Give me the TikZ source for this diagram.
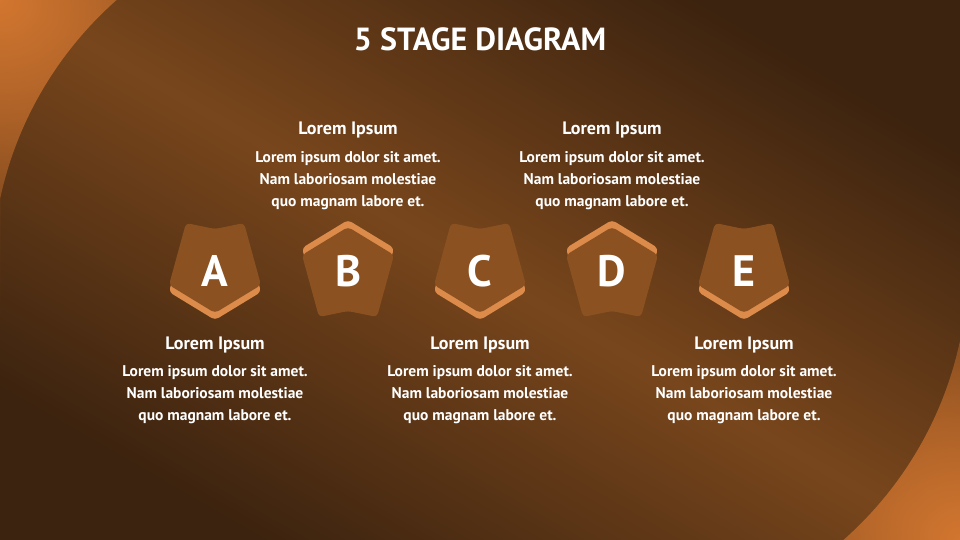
\documentclass[tikz,border=0pt]{standalone}
\usepackage{fontspec}
\setmainfont{PT Sans}
\usepackage{tikz}
\usetikzlibrary{positioning, fadings}
\definecolor{bgdark}{RGB}{60,35,15}
\definecolor{bglight}{RGB}{120,70,28}
\definecolor{glow}{RGB}{210,118,48}
\definecolor{stagebrown}{RGB}{139,81,33}
\definecolor{stageedge}{RGB}{220,139,75}
\tikzfading[name=glowfade, inner color=transparent!0, outer color=transparent!100]
\tikzset{
    stage/.pic={
        \fill[stageedge, rounded corners=4pt] (-29,-40)--(0,-34)--(29,-40)--(46,22)--(0,50)--(-46,22)--cycle;
        \fill[stagebrown, rounded corners=4pt] (-29,-47)--(0,-41)--(29,-47)--(46,15)--(0,43)--(-46,15)--cycle;
    },
    letter/.style={text=white, font=\bfseries\fontsize{44}{44}\selectfont},
    head/.style={text=white, font=\bfseries\fontsize{18}{20}\selectfont},
    body/.style={text=white, align=center, font=\bfseries\fontsize{15.5}{22}\selectfont},
}
\begin{document}
\begin{tikzpicture}[x=1pt, y=-1pt]
    \useasboundingbox (0,0) rectangle (960,540);
    \shade[top color=bgdark, bottom color=bgdark, middle color=bglight, shading angle=-30] (0,0) rectangle (960,540);
    \begin{scope}[even odd rule]
        \clip (0,0) rectangle (960,540) (360,276) circle (368);
        \fill[glow, path fading=glowfade] (-330,-330) rectangle (330,330);
    \end{scope}
    \begin{scope}[even odd rule]
        \clip (0,0) rectangle (960,540) (600,264) circle (368);
        \fill[glow, path fading=glowfade] (630,210) rectangle (1290,870);
    \end{scope}
    \node[text=white, font=\bfseries\fontsize{32}{32}\selectfont] (title) at (480,39) {5 STAGE DIAGRAM};
    \pic at (215,270) {stage};
    \pic[yscale=-1] at (348,270) {stage};
    \pic at (480,270) {stage};
    \pic[yscale=-1] at (612,270) {stage};
    \pic at (744,270) {stage};
    \node[letter] (A) at (215,271) {A};
    \node[letter] (B) at (348,271) {B};
    \node[letter] (C) at (480,271) {C};
    \node[letter] (D) at (612,271) {D};
    \node[letter] (E) at (744,271) {E};
    \node[head] (headB) at (348,130) {Lorem Ipsum};
    \node[body] (textB) at (348,181) {Lorem ipsum dolor sit amet.\\Nam laboriosam molestiae\\quo magnam labore et.};
    \node[head] (headD) at (612,130) {Lorem Ipsum};
    \node[body] (textD) at (612,181) {Lorem ipsum dolor sit amet.\\Nam laboriosam molestiae\\quo magnam labore et.};
    \node[head] (headA) at (215,345) {Lorem Ipsum};
    \node[body] (textA) at (215,395) {Lorem ipsum dolor sit amet.\\Nam laboriosam molestiae\\quo magnam labore et.};
    \node[head] (headC) at (480,345) {Lorem Ipsum};
    \node[body] (textC) at (480,395) {Lorem ipsum dolor sit amet.\\Nam laboriosam molestiae\\quo magnam labore et.};
    \node[head] (headE) at (744,345) {Lorem Ipsum};
    \node[body] (textE) at (744,395) {Lorem ipsum dolor sit amet.\\Nam laboriosam molestiae\\quo magnam labore et.};
\end{tikzpicture}
\end{document}
